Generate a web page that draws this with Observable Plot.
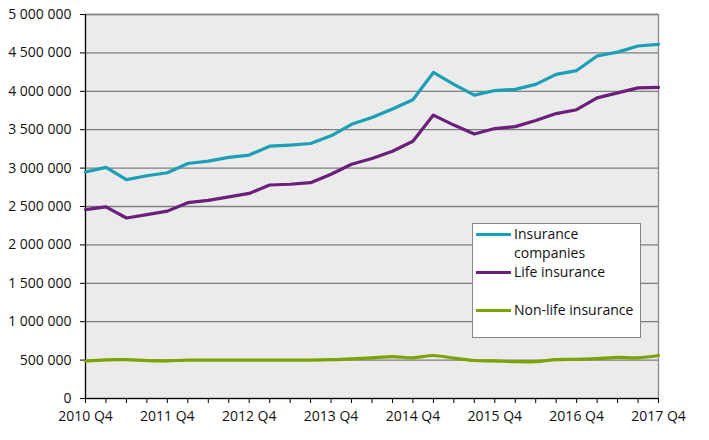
<!DOCTYPE html>
<html>
<head>
<meta charset="utf-8">
<script src="https://cdn.jsdelivr.net/npm/d3@7"></script>
<script src="https://cdn.jsdelivr.net/npm/@observablehq/plot@0.6"></script>
<style>
  html, body { margin: 0; padding: 0; background: #fff; }
  #chart { position: relative; width: 709px; height: 440px; font-family: "Open Sans", sans-serif; }
  #legend {
    position: absolute; left: 472px; top: 223px; width: 169px; height: 115px;
    background: #fff; border: 1px solid #868686; box-sizing: border-box;
    font-size: 14px; color: #111;
  }
  #legend .item { position: absolute; left: 3px; display: flex; align-items: flex-start; }
  #legend .swatch { width: 35px; height: 3px; margin-top: 9px; margin-right: 3px; flex: none; }
  #legend .label { line-height: 19px; }
</style>
</head>
<body>
<div id="chart"></div>
<script>
// Quarterly balance, 2010 Q4 – 2017 Q4
const quarters = [
  "2010 Q4",
  "2011 Q1", "2011 Q2", "2011 Q3", "2011 Q4",
  "2012 Q1", "2012 Q2", "2012 Q3", "2012 Q4",
  "2013 Q1", "2013 Q2", "2013 Q3", "2013 Q4",
  "2014 Q1", "2014 Q2", "2014 Q3", "2014 Q4",
  "2015 Q1", "2015 Q2", "2015 Q3", "2015 Q4",
  "2016 Q1", "2016 Q2", "2016 Q3", "2016 Q4",
  "2017 Q1", "2017 Q2", "2017 Q3", "2017 Q4"
];

const insuranceCompanies = [
  2950000, 3010000, 2850000, 2900000, 2940000, 3060000, 3090000, 3140000,
  3170000, 3285000, 3300000, 3320000, 3420000, 3570000, 3660000, 3770000,
  3890000, 4245000, 4090000, 3950000, 4010000, 4025000, 4090000, 4220000,
  4270000, 4460000, 4510000, 4590000, 4610000
];

const lifeInsurance = [
  2460000, 2495000, 2350000, 2395000, 2440000, 2550000, 2580000, 2625000,
  2670000, 2780000, 2790000, 2810000, 2920000, 3050000, 3125000, 3220000,
  3350000, 3690000, 3560000, 3445000, 3515000, 3540000, 3620000, 3710000,
  3760000, 3915000, 3980000, 4045000, 4050000
];

const nonLifeInsurance = [
  487000, 503000, 505000, 493000, 490000, 500000, 500000, 500000,
  500000, 500000, 500000, 500000, 505000, 517000, 530000, 545000,
  530000, 560000, 525000, 495000, 490000, 480000, 480000, 505000,
  510000, 520000, 535000, 530000, 560000
];

const seriesNames = ["Insurance companies", "Life insurance", "Non-life insurance"];
const seriesColors = ["#1a9fb6", "#6b1e7b", "#7ba200"];
const yTicks = d3.range(0, 5000001, 500000);

const rows = (values, name) => values.map((v, i) => ({quarter: quarters[i], value: v, series: name}));
const companies = rows(insuranceCompanies, seriesNames[0]);
const life = rows(lifeInsurance, seriesNames[1]);
const nonLife = rows(nonLifeInsurance, seriesNames[2]);

const locale = d3.formatLocale({decimal: ",", thousands: " ", grouping: [3], currency: ["", ""]});
const fmt = locale.format(",");

const plot = Plot.plot({
  width: 709,
  height: 440,
  marginLeft: 85,
  marginRight: 51,
  marginTop: 14,
  marginBottom: 42,
  style: {fontFamily: "Open Sans, sans-serif", fontSize: "14px", color: "#111", background: "#fff"},
  x: {type: "point", domain: quarters, padding: 0, round: false},
  y: {domain: [0, 5000000]},
  marks: [
    Plot.frame({fill: "url(#dots)", stroke: "#868686", strokeWidth: 1.3}),
    Plot.gridY(yTicks, {stroke: "#7f7f7f", strokeOpacity: 1, strokeWidth: 1.3}),
    Plot.ruleY([0], {stroke: "#000", strokeWidth: 1.2}),
    Plot.ruleX([quarters[0]], {stroke: "#000", strokeWidth: 1.2}),
    Plot.axisY(yTicks, {tickSize: 5, tickPadding: 9, tickFormat: fmt, stroke: "#000", label: null, fontSize: 14}),
    Plot.axisX(quarters, {
      tickSize: 5, tickPadding: 8, stroke: "#000", label: null, fontSize: 14,
      tickFormat: d => d.endsWith("Q4") ? d : ""
    }),
    Plot.line(nonLife, {x: "quarter", y: "value", stroke: seriesColors[2], strokeWidth: 3.2, curve: "catmull-rom"}),
    Plot.line(life, {x: "quarter", y: "value", stroke: seriesColors[1], strokeWidth: 3.2}),
    Plot.line(companies, {x: "quarter", y: "value", stroke: seriesColors[0], strokeWidth: 3.2})
  ]
});

// fine dotted texture for the plotting area
const defs = d3.select(plot).insert("defs", ":first-child");
const pat = defs.append("pattern").attr("id", "dots").attr("patternUnits", "userSpaceOnUse")
  .attr("width", 4).attr("height", 4);
pat.append("rect").attr("width", 4).attr("height", 4).attr("fill", "#ededed");
pat.append("rect").attr("x", 0).attr("y", 0).attr("width", 1).attr("height", 1).attr("fill", "#d9d9d9");
pat.append("rect").attr("x", 2).attr("y", 2).attr("width", 1).attr("height", 1).attr("fill", "#e0e0e0");

const chart = document.getElementById("chart");
chart.appendChild(plot);

// legend box inside the plot area
const legend = document.createElement("div");
legend.id = "legend";
const legendItems = [
  {name: "Insurance<br>companies", color: seriesColors[0], top: 0},
  {name: seriesNames[1], color: seriesColors[1], top: 38},
  {name: seriesNames[2], color: seriesColors[2], top: 76}
];
for (const it of legendItems) {
  const item = document.createElement("div");
  item.className = "item";
  item.style.top = it.top + "px";
  item.innerHTML = `<div class="swatch" style="background:${it.color}"></div><div class="label">${it.name}</div>`;
  legend.appendChild(item);
}
chart.appendChild(legend);
</script>
</body>
</html>
